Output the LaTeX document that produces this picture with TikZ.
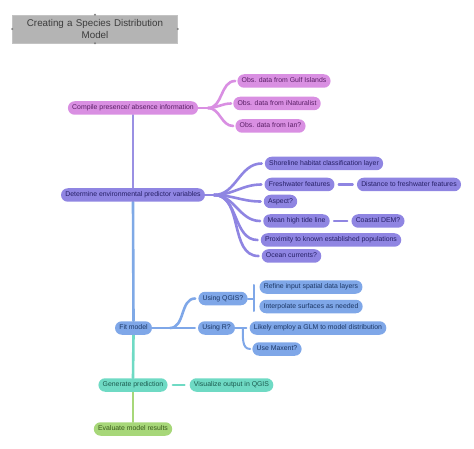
\documentclass[tikz,border=0pt]{standalone}
\usepackage{fontspec}
\setmainfont{Liberation Sans}
\usetikzlibrary{shapes.misc,backgrounds}
\definecolor{pinkF}{HTML}{D98FE2}
\definecolor{pinkT}{HTML}{5A1F66}
\definecolor{purF}{HTML}{8F85E2}
\definecolor{purT}{HTML}{262066}
\definecolor{bluF}{HTML}{7FA7E8}
\definecolor{bluT}{HTML}{1C3766}
\definecolor{tealF}{HTML}{6FDAC4}
\definecolor{tealT}{HTML}{1B5A4E}
\definecolor{grnF}{HTML}{A7D779}
\definecolor{grnT}{HTML}{3A5A1B}
\definecolor{titF}{HTML}{B4B4B4}
\definecolor{titT}{HTML}{3C3C3C}
\definecolor{purL}{HTML}{9A90E3}
\definecolor{bluL}{HTML}{7FA9E6}
\tikzset{
  pill/.style={rounded rectangle, inner xsep=3.5pt, inner ysep=0pt, minimum height=13.5pt,
    font=\fontsize{6.9}{7}\selectfont, text height=5pt, text depth=1.3pt},
  pk/.style={pill, fill=pinkF, text=pinkT},
  pu/.style={pill, fill=purF, text=purT},
  bl/.style={pill, fill=bluF, text=bluT},
  te/.style={pill, fill=tealF, text=tealT},
  gr/.style={pill, fill=grnF, text=grnT},
  conn/.style={line width=2.6pt, line cap=round},
  pkc/.style={conn, draw=pinkF},
  puc/.style={conn, draw=purF},
  blc/.style={conn, draw=bluF},
  tec/.style={conn, draw=tealF},
  grc/.style={conn, draw=grnF},
}
\begin{document}
\begin{tikzpicture}[x=1pt,y=-1pt]
\useasboundingbox (0,0) rectangle (474,449);
% title
\node[fill=titF, draw=titF!80!white, minimum width=165pt, minimum height=28pt, text width=160pt, align=center,
  font=\fontsize{9.8}{11.5}\selectfont, text=titT, inner sep=1pt] (title) at (95,29)
  {Creating a Species Distribution\\Model};
\foreach \a in {north,south,east,west}{\fill[titF!70!black] (title.\a) circle (1.1pt);}
% level 1
\node[pk] (cmp) at (133,108) {Compile presence/ absence information};
\node[pk] (gulf) at (284,81) {Obs. data from Gulf Islands};
\node[pk] (inat) at (277,103.5) {Obs. data from iNaturalist};
\node[pk] (ian) at (270.5,126) {Obs. data from Ian?};
% level 2
\node[pu] (det) at (133,195) {Determine environmental predictor variables};
\node[pu] (shore) at (324,163.5) {Shoreline habitat classification layer};
\node[pu] (fresh) at (299.5,184.5) {Freshwater features};
\node[pu] (dist) at (409,184.5) {Distance to freshwater features};
\node[pu] (asp) at (280.5,201.5) {Aspect?};
\node[pu] (mean) at (296.5,221) {Mean high tide line};
\node[pu] (dem) at (378,221) {Coastal DEM?};
\node[pu] (prox) at (331,240) {Proximity to known established populations};
\node[pu] (ocean) at (291.5,256) {Ocean currents?};
% level 3
\node[bl] (fit) at (133.5,328) {Fit model};
\node[bl] (qgis) at (223,298.5) {Using QGIS?};
\node[bl] (usr) at (216.5,328) {Using R?};
\node[bl] (ref) at (311,287) {Refine input spatial data layers};
\node[bl] (interp) at (311,306.5) {Interpolate surfaces as needed};
\node[bl] (glm) at (318,328) {Likely employ a GLM to model distribution};
\node[bl] (maxent) at (277,349) {Use Maxent?};
% level 4
\node[te] (gen) at (133,385) {Generate prediction};
\node[te] (vis) at (231.5,385) {Visualize output in QGIS};
\node[gr] (eval) at (133,429) {Evaluate model results};
\begin{scope}[on background layer]
% trunk
\draw[conn, draw=purL] (cmp.south) -- (det.north);
\draw[conn, draw=bluL] (det.south) -- (fit.north);
\draw[tec] (fit.south) -- (gen.north);
\draw[grc] (gen.south) -- (eval.north);
% pink branches
\coordinate (cj) at (208,108);
\draw[pkc] (cmp.east) -- (cj);
\foreach \c in {gulf,inat,ian}{\draw[pkc] (cj) to[out=0,in=180] ([xshift=-2pt]\c.west);}
% purple branches
\coordinate (dj) at (214,195);
\draw[puc] (det.east) -- (dj);
\foreach \c in {shore,fresh,asp,mean,prox,ocean}{\draw[puc] (dj) to[out=0,in=180] ([xshift=-3pt]\c.west);}
\draw[puc, line width=2.2pt] ([xshift=4pt]fresh.east) -- ([xshift=-4pt]dist.west);
\draw[puc, line width=2.2pt] ([xshift=4pt]mean.east) -- ([xshift=-4pt]dem.west);
% blue branches
\coordinate (fj) at (170,328);
\draw[blc] (fit.east) -- ([xshift=-3pt]usr.west);
\draw[blc] (fj) to[out=0,in=180] ([xshift=-3pt]qgis.west);
\coordinate (qj) at (253.5,298.5);
\draw[blc, line width=2pt] (qgis.east) -- (qj);
\draw[blc, line width=2pt] (253.5,285) -- (253.5,311);
\coordinate (rj) at (243,328);
\draw[blc, line width=2pt] (usr.east) -- ([xshift=-3pt]glm.west);
\draw[blc, line width=2pt] (rj) to[out=-90,in=180] ([xshift=-2pt]maxent.west);
% teal
\draw[tec, line width=2.2pt] ([xshift=5pt]gen.east) -- ([xshift=-5pt]vis.west);
\end{scope}
\end{tikzpicture}
\end{document}
